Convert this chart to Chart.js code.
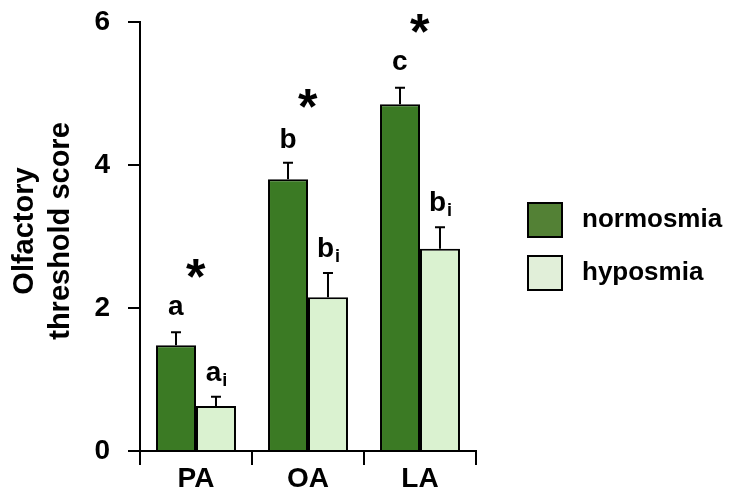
<!DOCTYPE html>
<html>
<head>
<meta charset="utf-8">
<script src="https://cdn.jsdelivr.net/npm/chart.js@4/dist/chart.umd.min.js"></script>
<style>
  html, body { margin: 0; padding: 0; background: #fff; }
  #wrap { position: relative; width: 732px; height: 496px; }
</style>
</head>
<body>
<div id="wrap"><canvas id="bar-chart"></canvas></div>
<script>
const categories = ['PA', 'OA', 'LA'];
const normosmia = [1.48, 3.80, 4.85];
const normosmiaErr = [0.18, 0.23, 0.23];
const hyposmia = [0.63, 2.15, 2.83];
const hyposmiaErr = [0.13, 0.34, 0.30];
const normLetters = ['a', 'b', 'c'];
const hypoLetters = ['a', 'b', 'b'];
const stars = ['*', '*', '*'];
const yTicks = [0, 2, 4, 6];
const yTitle = ['Olfactory', 'threshold score'];

const FONT = '"Liberation Sans", Arial, sans-serif';

// draw text so its ink box is centred on (x, y)
function inkText(ctx, txt, x, y) {
  const m = ctx.measureText(txt);
  const w = m.actualBoundingBoxLeft + m.actualBoundingBoxRight;
  const h = m.actualBoundingBoxAscent + m.actualBoundingBoxDescent;
  ctx.fillText(txt, x - w / 2 + m.actualBoundingBoxLeft, y - h / 2 + m.actualBoundingBoxAscent);
}

const errorBars = {
  id: 'errorBars',
  afterDatasetsDraw(chart) {
    const ctx = chart.ctx;
    const yScale = chart.scales.y;
    const errs = [normosmiaErr, hyposmiaErr];
    ctx.save();
    ctx.strokeStyle = '#000';
    ctx.lineWidth = 2;
    chart.data.datasets.forEach((ds, i) => {
      chart.getDatasetMeta(i).data.forEach((bar, j) => {
        const top = yScale.getPixelForValue(ds.data[j] + errs[i][j]);
        ctx.beginPath();
        ctx.moveTo(bar.x, bar.y);
        ctx.lineTo(bar.x, top);
        ctx.moveTo(bar.x - 5, top);
        ctx.lineTo(bar.x + 5, top);
        ctx.stroke();
      });
    });

    // letters and asterisks
    ctx.fillStyle = '#000';
    const nMeta = chart.getDatasetMeta(0).data;
    const hMeta = chart.getDatasetMeta(1).data;
    categories.forEach((c, j) => {
      const nTop = yScale.getPixelForValue(normosmia[j] + normosmiaErr[j]);
      const hTop = yScale.getPixelForValue(hyposmia[j] + hyposmiaErr[j]);
      ctx.font = 'bold 28px ' + FONT;
      inkText(ctx, normLetters[j], nMeta[j].x, nTop - 25);

      // letter with subscript i
      ctx.font = 'bold 28px ' + FONT;
      const mw = ctx.measureText(hypoLetters[j]).width;
      ctx.font = 'bold 18px ' + FONT;
      const sw = ctx.measureText('i').width;
      const x0 = hMeta[j].x - (mw + sw) / 2;
      ctx.font = 'bold 28px ' + FONT;
      ctx.textAlign = 'left';
      ctx.textBaseline = 'alphabetic';
      const base = hTop - 16;
      ctx.fillText(hypoLetters[j], x0, base);
      ctx.font = 'bold 18px ' + FONT;
      ctx.fillText('i', x0 + mw + 1, base + 5);

      ctx.font = 'bold 50px ' + FONT;
      inkText(ctx, stars[j], nMeta[j].x + nMeta[j].width / 2, nTop - 64);
    });
    ctx.restore();
  }
};

const sideBits = {
  id: 'sideBits',
  afterDraw(chart) {
    const ctx = chart.ctx;
    ctx.save();
    // y title, two rotated lines
    ctx.fillStyle = '#000';
    ctx.font = 'bold 29px ' + FONT;
    ctx.textAlign = 'center';
    ctx.textBaseline = 'middle';
    const cx = [25, 61];
    yTitle.forEach((t, i) => {
      ctx.save();
      ctx.translate(cx[i], 231);
      ctx.rotate(-Math.PI / 2);
      ctx.fillText(t, 0, 0);
      ctx.restore();
    });
    // legend
    const swatch = ['#538135', '#e1efd9'];
    chart.data.datasets.forEach((ds, i) => {
      const y = 203 + i * 53;
      ctx.fillStyle = swatch[i];
      ctx.fillRect(528, y, 34, 34);
      ctx.strokeStyle = '#000';
      ctx.lineWidth = 2;
      ctx.strokeRect(528, y, 34, 34);
      ctx.fillStyle = '#000';
      ctx.font = 'bold 26px ' + FONT;
      ctx.textAlign = 'left';
      ctx.textBaseline = 'middle';
      ctx.fillText(ds.label, 582, y + 17);
    });
    ctx.restore();
  }
};

new Chart(document.getElementById('bar-chart'), {
  type: 'bar',
  data: {
    labels: categories,
    datasets: [
      { label: 'normosmia', data: normosmia, backgroundColor: '#3b7a24', borderColor: '#000', borderWidth: 2 },
      { label: 'hyposmia', data: hyposmia, backgroundColor: '#daf2d0', borderColor: '#000', borderWidth: 2 }
    ]
  },
  options: {
    responsive: true,
    maintainAspectRatio: false,
    animation: false,
    layout: { autoPadding: false, padding: { left: 0, top: 22, right: 256, bottom: 0 } },
    plugins: { legend: { display: false }, tooltip: { enabled: false } },
    datasets: { bar: { categoryPercentage: 0.714, barPercentage: 1.0 } },
    scales: {
      x: {
        afterFit(scale) { scale.height = 45; scale.paddingLeft = 0; scale.paddingRight = 0; },
        grid: { offset: true, drawOnChartArea: false, color: '#000', lineWidth: 2, tickLength: 14 },
        border: { color: '#000', width: 2 },
        ticks: { color: '#000', font: { family: FONT, size: 28, weight: 'bold' }, padding: -3 }
      },
      y: {
        min: 0,
        max: 6,
        afterFit(scale) { scale.width = 140; scale.paddingTop = 0; scale.paddingBottom = 0; },
        afterBuildTicks(scale) { scale.ticks = yTicks.map(v => ({ value: v })); },
        grid: { drawOnChartArea: false, color: '#000', lineWidth: 2, tickLength: 12 },
        border: { color: '#000', width: 2 },
        ticks: { color: '#000', font: { family: FONT, size: 28, weight: 'bold' }, padding: 18 }
      }
    }
  },
  plugins: [errorBars, sideBits]
});
</script>
</body>
</html>
